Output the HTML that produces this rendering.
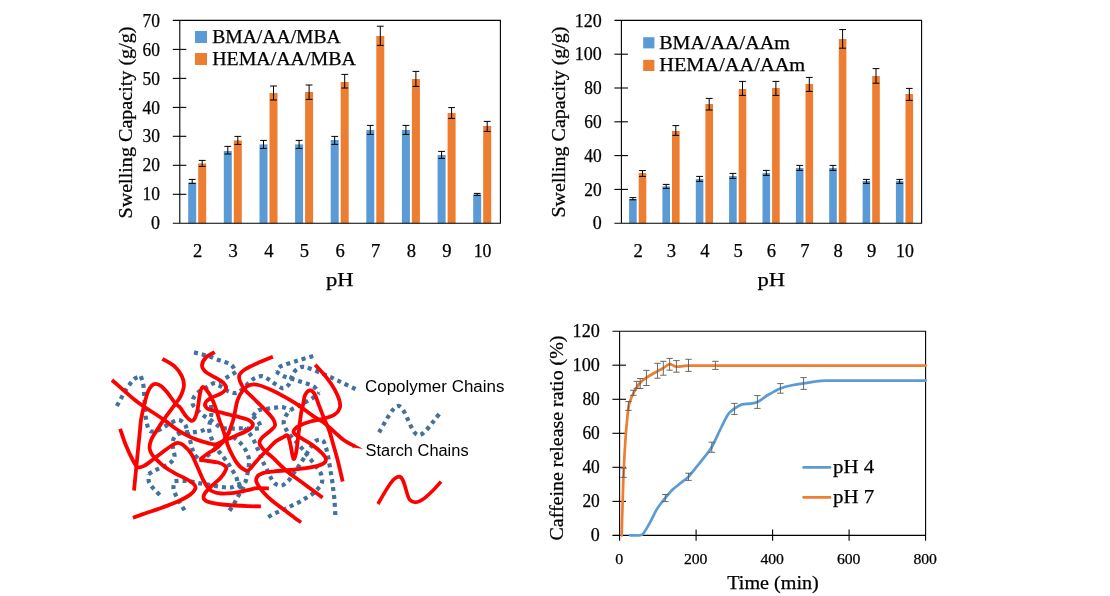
<!DOCTYPE html>
<html><head><meta charset="utf-8"><title>Figure</title>
<style>html,body{margin:0;padding:0;background:#fff}svg{display:block}text{font-family:'Liberation Serif', serif;fill:#000;stroke:#000;stroke-width:0.25px}</style></head><body>
<svg width="1110" height="596" viewBox="0 0 1110 596">
<rect width="1110" height="596" fill="#fff"/>
<g id="chart1">
<rect x="188.2" y="182.6" width="8" height="40.7" fill="#5B9BD5"/>
<rect x="198.2" y="163.4" width="8" height="59.9" fill="#ED7D31"/>
<path d="M192.2 179.4V183.4M188.8 179.4h6.8M188.8 183.4h6.8" stroke="#000" stroke-width="1" fill="none"/>
<path d="M202.2 160.4V166.4M198.8 160.4h6.8M198.8 166.4h6.8" stroke="#000" stroke-width="1" fill="none"/>
<rect x="223.8" y="151.0" width="8" height="72.3" fill="#5B9BD5"/>
<rect x="233.8" y="140.4" width="8" height="82.9" fill="#ED7D31"/>
<path d="M227.8 146.4V154.0M224.4 146.4h6.8M224.4 154.0h6.8" stroke="#000" stroke-width="1" fill="none"/>
<path d="M237.8 136.4V144.4M234.4 136.4h6.8M234.4 144.4h6.8" stroke="#000" stroke-width="1" fill="none"/>
<rect x="259.5" y="144.4" width="8" height="78.9" fill="#5B9BD5"/>
<rect x="269.5" y="93.0" width="8" height="130.3" fill="#ED7D31"/>
<path d="M263.5 140.4V148.4M260.1 140.4h6.8M260.1 148.4h6.8" stroke="#000" stroke-width="1" fill="none"/>
<path d="M273.5 86.0V100.0M270.1 86.0h6.8M270.1 100.0h6.8" stroke="#000" stroke-width="1" fill="none"/>
<rect x="295.1" y="144.4" width="8" height="78.9" fill="#5B9BD5"/>
<rect x="305.1" y="92.0" width="8" height="131.3" fill="#ED7D31"/>
<path d="M299.1 140.4V148.4M295.7 140.4h6.8M295.7 148.4h6.8" stroke="#000" stroke-width="1" fill="none"/>
<path d="M309.1 85.0V99.4M305.7 85.0h6.8M305.7 99.4h6.8" stroke="#000" stroke-width="1" fill="none"/>
<rect x="330.7" y="140.0" width="8" height="83.3" fill="#5B9BD5"/>
<rect x="340.7" y="82.0" width="8" height="141.3" fill="#ED7D31"/>
<path d="M334.7 136.4V144.4M331.3 136.4h6.8M331.3 144.4h6.8" stroke="#000" stroke-width="1" fill="none"/>
<path d="M344.7 74.4V88.0M341.3 74.4h6.8M341.3 88.0h6.8" stroke="#000" stroke-width="1" fill="none"/>
<rect x="366.3" y="130.0" width="8" height="93.3" fill="#5B9BD5"/>
<rect x="376.3" y="36.0" width="8" height="187.3" fill="#ED7D31"/>
<path d="M370.3 125.4V134.4M366.9 125.4h6.8M366.9 134.4h6.8" stroke="#000" stroke-width="1" fill="none"/>
<path d="M380.3 26.2V45.4M376.9 26.2h6.8M376.9 45.4h6.8" stroke="#000" stroke-width="1" fill="none"/>
<rect x="401.9" y="130.0" width="8" height="93.3" fill="#5B9BD5"/>
<rect x="411.9" y="79.0" width="8" height="144.3" fill="#ED7D31"/>
<path d="M405.9 125.4V134.4M402.5 125.4h6.8M402.5 134.4h6.8" stroke="#000" stroke-width="1" fill="none"/>
<path d="M415.9 71.4V86.4M412.5 71.4h6.8M412.5 86.4h6.8" stroke="#000" stroke-width="1" fill="none"/>
<rect x="437.6" y="155.0" width="8" height="68.3" fill="#5B9BD5"/>
<rect x="447.6" y="113.0" width="8" height="110.3" fill="#ED7D31"/>
<path d="M441.6 151.4V158.4M438.2 151.4h6.8M438.2 158.4h6.8" stroke="#000" stroke-width="1" fill="none"/>
<path d="M451.6 107.6V118.4M448.2 107.6h6.8M448.2 118.4h6.8" stroke="#000" stroke-width="1" fill="none"/>
<rect x="473.2" y="194.4" width="8" height="28.9" fill="#5B9BD5"/>
<rect x="483.2" y="126.0" width="8" height="97.3" fill="#ED7D31"/>
<path d="M477.2 193.4V195.4M473.8 193.4h6.8M473.8 195.4h6.8" stroke="#000" stroke-width="1" fill="none"/>
<path d="M487.2 121.4V131.4M483.8 121.4h6.8M483.8 131.4h6.8" stroke="#000" stroke-width="1" fill="none"/>
<path d="M172.8 20.4H500.4V223.3H172.8M179.8 20.4V223.3" stroke="#000" stroke-width="1.1" fill="none"/>
<text x="159.9" y="229.4" font-size="18.4" text-anchor="end" textLength="9.0" lengthAdjust="spacingAndGlyphs">0</text>
<path d="M172.8 194.3h13.5" stroke="#000" stroke-width="1.1"/>
<text x="159.9" y="200.4" font-size="18.4" text-anchor="end" textLength="17.400000000000002" lengthAdjust="spacingAndGlyphs">10</text>
<path d="M172.8 165.3h13.5" stroke="#000" stroke-width="1.1"/>
<text x="159.9" y="171.4" font-size="18.4" text-anchor="end" textLength="17.400000000000002" lengthAdjust="spacingAndGlyphs">20</text>
<path d="M172.8 136.3h13.5" stroke="#000" stroke-width="1.1"/>
<text x="159.9" y="142.4" font-size="18.4" text-anchor="end" textLength="17.400000000000002" lengthAdjust="spacingAndGlyphs">30</text>
<path d="M172.8 107.4h13.5" stroke="#000" stroke-width="1.1"/>
<text x="159.9" y="113.5" font-size="18.4" text-anchor="end" textLength="17.400000000000002" lengthAdjust="spacingAndGlyphs">40</text>
<path d="M172.8 78.4h13.5" stroke="#000" stroke-width="1.1"/>
<text x="159.9" y="84.5" font-size="18.4" text-anchor="end" textLength="17.400000000000002" lengthAdjust="spacingAndGlyphs">50</text>
<path d="M172.8 49.4h13.5" stroke="#000" stroke-width="1.1"/>
<text x="159.9" y="55.5" font-size="18.4" text-anchor="end" textLength="17.400000000000002" lengthAdjust="spacingAndGlyphs">60</text>
<text x="159.9" y="26.5" font-size="18.4" text-anchor="end" textLength="17.400000000000002" lengthAdjust="spacingAndGlyphs">70</text>
<text x="197.6" y="256.6" font-size="18.4" text-anchor="middle" textLength="9.3" lengthAdjust="spacingAndGlyphs">2</text>
<text x="233.2" y="256.6" font-size="18.4" text-anchor="middle" textLength="9.3" lengthAdjust="spacingAndGlyphs">3</text>
<text x="268.9" y="256.6" font-size="18.4" text-anchor="middle" textLength="9.3" lengthAdjust="spacingAndGlyphs">4</text>
<text x="304.5" y="256.6" font-size="18.4" text-anchor="middle" textLength="9.3" lengthAdjust="spacingAndGlyphs">5</text>
<text x="340.1" y="256.6" font-size="18.4" text-anchor="middle" textLength="9.3" lengthAdjust="spacingAndGlyphs">6</text>
<text x="375.7" y="256.6" font-size="18.4" text-anchor="middle" textLength="9.3" lengthAdjust="spacingAndGlyphs">7</text>
<text x="411.3" y="256.6" font-size="18.4" text-anchor="middle" textLength="9.3" lengthAdjust="spacingAndGlyphs">8</text>
<text x="447.0" y="256.6" font-size="18.4" text-anchor="middle" textLength="9.3" lengthAdjust="spacingAndGlyphs">9</text>
<text x="482.6" y="256.6" font-size="18.4" text-anchor="middle" textLength="17.8" lengthAdjust="spacingAndGlyphs">10</text>
<text x="339.8" y="286" font-size="19.4" text-anchor="middle" textLength="27.6" lengthAdjust="spacingAndGlyphs">pH</text>
<rect x="195" y="31" width="12" height="12" fill="#5B9BD5"/>
<rect x="195" y="53" width="12" height="12" fill="#ED7D31"/>
<text x="212.2" y="42.6" font-size="18.6" text-anchor="start" textLength="128.6" lengthAdjust="spacingAndGlyphs">BMA/AA/MBA</text>
<text x="212.2" y="64.6" font-size="18.6" text-anchor="start" textLength="143.6" lengthAdjust="spacingAndGlyphs">HEMA/AA/MBA</text>
<text transform="translate(132 122.5) rotate(-90)" font-size="18.2" text-anchor="middle" textLength="192" lengthAdjust="spacingAndGlyphs">Swelling Capacity (g/g)</text>
</g>
<g id="chart2">
<rect x="629.1" y="199.0" width="7.6" height="24.2" fill="#5B9BD5"/>
<rect x="638.7" y="173.0" width="7.6" height="50.2" fill="#ED7D31"/>
<path d="M632.9 197.6V199.8M629.5 197.6h6.8M629.5 199.8h6.8" stroke="#000" stroke-width="1" fill="none"/>
<path d="M642.5 170.6V176.4M639.1 170.6h6.8M639.1 176.4h6.8" stroke="#000" stroke-width="1" fill="none"/>
<rect x="662.4" y="186.4" width="7.6" height="36.8" fill="#5B9BD5"/>
<rect x="672.0" y="131.0" width="7.6" height="92.2" fill="#ED7D31"/>
<path d="M666.2 184.4V188.4M662.8 184.4h6.8M662.8 188.4h6.8" stroke="#000" stroke-width="1" fill="none"/>
<path d="M675.8 125.6V135.4M672.4 125.6h6.8M672.4 135.4h6.8" stroke="#000" stroke-width="1" fill="none"/>
<rect x="695.8" y="179.0" width="7.6" height="44.2" fill="#5B9BD5"/>
<rect x="705.4" y="104.0" width="7.6" height="119.2" fill="#ED7D31"/>
<path d="M699.6 176.4V181.4M696.2 176.4h6.8M696.2 181.4h6.8" stroke="#000" stroke-width="1" fill="none"/>
<path d="M709.2 98.4V110.0M705.8 98.4h6.8M705.8 110.0h6.8" stroke="#000" stroke-width="1" fill="none"/>
<rect x="729.1" y="176.0" width="7.6" height="47.2" fill="#5B9BD5"/>
<rect x="738.7" y="89.0" width="7.6" height="134.2" fill="#ED7D31"/>
<path d="M732.9 173.4V178.4M729.5 173.4h6.8M729.5 178.4h6.8" stroke="#000" stroke-width="1" fill="none"/>
<path d="M742.5 81.4V95.4M739.1 81.4h6.8M739.1 95.4h6.8" stroke="#000" stroke-width="1" fill="none"/>
<rect x="762.5" y="173.0" width="7.6" height="50.2" fill="#5B9BD5"/>
<rect x="772.1" y="88.0" width="7.6" height="135.2" fill="#ED7D31"/>
<path d="M766.3 170.4V175.4M762.9 170.4h6.8M762.9 175.4h6.8" stroke="#000" stroke-width="1" fill="none"/>
<path d="M775.9 81.4V95.4M772.5 81.4h6.8M772.5 95.4h6.8" stroke="#000" stroke-width="1" fill="none"/>
<rect x="795.9" y="168.0" width="7.6" height="55.2" fill="#5B9BD5"/>
<rect x="805.5" y="84.0" width="7.6" height="139.2" fill="#ED7D31"/>
<path d="M799.7 165.4V170.4M796.3 165.4h6.8M796.3 170.4h6.8" stroke="#000" stroke-width="1" fill="none"/>
<path d="M809.3 77.4V91.4M805.9 77.4h6.8M805.9 91.4h6.8" stroke="#000" stroke-width="1" fill="none"/>
<rect x="829.2" y="168.0" width="7.6" height="55.2" fill="#5B9BD5"/>
<rect x="838.8" y="39.0" width="7.6" height="184.2" fill="#ED7D31"/>
<path d="M833.0 165.4V170.4M829.6 165.4h6.8M829.6 170.4h6.8" stroke="#000" stroke-width="1" fill="none"/>
<path d="M842.6 29.6V48.2M839.2 29.6h6.8M839.2 48.2h6.8" stroke="#000" stroke-width="1" fill="none"/>
<rect x="862.6" y="181.0" width="7.6" height="42.2" fill="#5B9BD5"/>
<rect x="872.2" y="76.0" width="7.6" height="147.2" fill="#ED7D31"/>
<path d="M866.4 179.4V183.4M863.0 179.4h6.8M863.0 183.4h6.8" stroke="#000" stroke-width="1" fill="none"/>
<path d="M876.0 68.6V83.2M872.6 68.6h6.8M872.6 83.2h6.8" stroke="#000" stroke-width="1" fill="none"/>
<rect x="895.9" y="181.0" width="7.6" height="42.2" fill="#5B9BD5"/>
<rect x="905.5" y="94.0" width="7.6" height="129.2" fill="#ED7D31"/>
<path d="M899.7 179.4V183.4M896.3 179.4h6.8M896.3 183.4h6.8" stroke="#000" stroke-width="1" fill="none"/>
<path d="M909.3 88.4V100.4M905.9 88.4h6.8M905.9 100.4h6.8" stroke="#000" stroke-width="1" fill="none"/>
<path d="M614.4 20.4H921.6V223.2H614.4M621.4 20.4V223.2" stroke="#000" stroke-width="1.1" fill="none"/>
<text x="601.7" y="229.3" font-size="18.4" text-anchor="end" textLength="9.0" lengthAdjust="spacingAndGlyphs">0</text>
<path d="M614.4 189.4h13.5" stroke="#000" stroke-width="1.1"/>
<text x="601.7" y="195.5" font-size="18.4" text-anchor="end" textLength="17.400000000000002" lengthAdjust="spacingAndGlyphs">20</text>
<path d="M614.4 155.6h13.5" stroke="#000" stroke-width="1.1"/>
<text x="601.7" y="161.7" font-size="18.4" text-anchor="end" textLength="17.400000000000002" lengthAdjust="spacingAndGlyphs">40</text>
<path d="M614.4 121.8h13.5" stroke="#000" stroke-width="1.1"/>
<text x="601.7" y="127.9" font-size="18.4" text-anchor="end" textLength="17.400000000000002" lengthAdjust="spacingAndGlyphs">60</text>
<path d="M614.4 88.0h13.5" stroke="#000" stroke-width="1.1"/>
<text x="601.7" y="94.1" font-size="18.4" text-anchor="end" textLength="17.400000000000002" lengthAdjust="spacingAndGlyphs">80</text>
<path d="M614.4 54.2h13.5" stroke="#000" stroke-width="1.1"/>
<text x="601.7" y="60.3" font-size="18.4" text-anchor="end" textLength="27.0" lengthAdjust="spacingAndGlyphs">100</text>
<text x="601.7" y="26.5" font-size="18.4" text-anchor="end" textLength="27.0" lengthAdjust="spacingAndGlyphs">120</text>
<text x="638.1" y="256.6" font-size="18.4" text-anchor="middle" textLength="9.3" lengthAdjust="spacingAndGlyphs">2</text>
<text x="671.4" y="256.6" font-size="18.4" text-anchor="middle" textLength="9.3" lengthAdjust="spacingAndGlyphs">3</text>
<text x="704.8" y="256.6" font-size="18.4" text-anchor="middle" textLength="9.3" lengthAdjust="spacingAndGlyphs">4</text>
<text x="738.1" y="256.6" font-size="18.4" text-anchor="middle" textLength="9.3" lengthAdjust="spacingAndGlyphs">5</text>
<text x="771.5" y="256.6" font-size="18.4" text-anchor="middle" textLength="9.3" lengthAdjust="spacingAndGlyphs">6</text>
<text x="804.9" y="256.6" font-size="18.4" text-anchor="middle" textLength="9.3" lengthAdjust="spacingAndGlyphs">7</text>
<text x="838.2" y="256.6" font-size="18.4" text-anchor="middle" textLength="9.3" lengthAdjust="spacingAndGlyphs">8</text>
<text x="871.6" y="256.6" font-size="18.4" text-anchor="middle" textLength="9.3" lengthAdjust="spacingAndGlyphs">9</text>
<text x="904.9" y="256.6" font-size="18.4" text-anchor="middle" textLength="17.8" lengthAdjust="spacingAndGlyphs">10</text>
<text x="771.2" y="286" font-size="19.4" text-anchor="middle" textLength="27.6" lengthAdjust="spacingAndGlyphs">pH</text>
<rect x="643.2" y="37.2" width="11.2" height="11.2" fill="#5B9BD5"/>
<rect x="643.2" y="59.8" width="11.2" height="11.2" fill="#ED7D31"/>
<text x="659.2" y="48.6" font-size="18.4" text-anchor="start" textLength="130.6" lengthAdjust="spacingAndGlyphs">BMA/AA/AAm</text>
<text x="659.2" y="70.8" font-size="18.4" text-anchor="start" textLength="146" lengthAdjust="spacingAndGlyphs">HEMA/AA/AAm</text>
<text transform="translate(565 122) rotate(-90)" font-size="18.2" text-anchor="middle" textLength="191" lengthAdjust="spacingAndGlyphs">Swelling Capacity (g/g)</text>
</g>
<g id="chart3">
<path d="M612.4 331.2H925.6V540.8M619.6 331.2V540.8M612.4 535.4H925.6" stroke="#000" stroke-width="1.1" fill="none"/>
<text x="599.8" y="541.4" font-size="18.4" text-anchor="end" textLength="9.0" lengthAdjust="spacingAndGlyphs">0</text>
<path d="M612.4 501.4h13.6" stroke="#000" stroke-width="1.1"/>
<text x="599.8" y="507.4" font-size="18.4" text-anchor="end" textLength="17.400000000000002" lengthAdjust="spacingAndGlyphs">20</text>
<path d="M612.4 467.3h13.6" stroke="#000" stroke-width="1.1"/>
<text x="599.8" y="473.3" font-size="18.4" text-anchor="end" textLength="17.400000000000002" lengthAdjust="spacingAndGlyphs">40</text>
<path d="M612.4 433.3h13.6" stroke="#000" stroke-width="1.1"/>
<text x="599.8" y="439.3" font-size="18.4" text-anchor="end" textLength="17.400000000000002" lengthAdjust="spacingAndGlyphs">60</text>
<path d="M612.4 399.3h13.6" stroke="#000" stroke-width="1.1"/>
<text x="599.8" y="405.3" font-size="18.4" text-anchor="end" textLength="17.400000000000002" lengthAdjust="spacingAndGlyphs">80</text>
<path d="M612.4 365.2h13.6" stroke="#000" stroke-width="1.1"/>
<text x="599.8" y="371.2" font-size="18.4" text-anchor="end" textLength="27.2" lengthAdjust="spacingAndGlyphs">100</text>
<text x="599.8" y="337.2" font-size="18.4" text-anchor="end" textLength="27.2" lengthAdjust="spacingAndGlyphs">120</text>
<path d="M630.1 535.3C631.8 535.3 638.1 535.8 640.5 535.3C642.9 534.8 642.6 534.5 644.2 532.3C645.8 530.1 648.2 525.9 650.2 522.2C652.2 518.5 654.3 513.5 656.3 510.1C658.3 506.7 660.8 503.6 662.3 501.6C663.8 499.6 663.6 500.0 665.3 498C667.0 496.0 669.9 492.2 672.4 489.8C674.9 487.4 677.7 485.5 680.4 483.3C683.1 481.1 686.0 479.2 688.5 476.7C691.0 474.2 693.0 471.3 695.5 468.2C698.0 465.1 700.9 461.6 703.6 458.1C706.3 454.6 709.1 451.7 711.8 447C714.5 442.3 717.3 435.4 720 430C722.7 424.6 725.6 418.1 728 414.5C730.4 410.9 732.1 410.3 734.4 408.6C736.7 406.9 739.4 405.2 742 404.4C744.6 403.6 747.4 404.0 750 403.6C752.6 403.2 754.4 403.4 757.4 402C760.4 400.6 764.2 397.3 768 395C771.8 392.7 776.4 390.0 780.4 388.4C784.4 386.8 788.1 386.0 792 385.2C795.9 384.4 799.6 384.0 803.6 383.4C807.6 382.8 812.3 381.8 816 381.4C819.7 380.9 820.3 380.8 826 380.7C831.7 380.6 833.4 380.7 850 380.7C866.6 380.7 913.0 380.7 925.6 380.7" stroke="#5B9BD5" stroke-width="2.7" fill="none" stroke-linecap="round" stroke-linejoin="round"/>
<path d="M621.7 535.4C621.8 532.8 621.9 525.9 622.1 520C622.3 514.1 622.5 507.9 622.7 500C623.0 492.1 623.2 481.1 623.6 472.8C624.0 464.5 624.4 456.6 624.8 450C625.2 443.4 625.5 438.5 625.9 433.5C626.3 428.5 626.7 424.4 627.1 420.2C627.5 415.9 627.9 411.3 628.4 408C628.9 404.7 629.5 402.8 630.3 400.5C631.1 398.2 632.0 396.2 633.1 394C634.2 391.8 635.5 389.2 636.7 387.3C637.9 385.4 638.6 384.4 640.2 382.8C641.8 381.2 643.5 379.6 646.4 377.7C649.3 375.8 654.7 372.8 657.5 371.2C660.3 369.6 661.3 369.4 663.3 368.2C665.3 367.0 667.4 364.4 669.6 364.1C671.8 363.9 673.2 366.4 676.4 366.7C679.5 367.0 682.0 365.9 688.5 365.7C695.0 365.5 696.8 365.6 715.4 365.6C734.0 365.6 765.0 365.6 800 365.6C835.0 365.6 904.7 365.6 925.6 365.6" stroke="#ED7D31" stroke-width="2.7" fill="none" stroke-linecap="round" stroke-linejoin="round"/>
<path d="M623.6 468.2V477.4M620.4 468.2h6.4M620.4 477.4h6.4M628.4 401.6V410.4M625.2 401.6h6.4M625.2 410.4h6.4M633.3 390.3V395.3M630.1 390.3h6.4M630.1 395.3h6.4M636.7 381.4V388.3M633.5 381.4h6.4M633.5 388.3h6.4M640.2 378.5V388.5M637.0 378.5h6.4M637.0 388.5h6.4M646.4 370.4V385.5M643.2 370.4h6.4M643.2 385.5h6.4M657.5 363.3V378.2M654.3 363.3h6.4M654.3 378.2h6.4M663.3 361.3V375.2M660.1 361.3h6.4M660.1 375.2h6.4M669.6 358.4V370.2M666.4 358.4h6.4M666.4 370.2h6.4M676.4 360.6V372.2M673.2 360.6h6.4M673.2 372.2h6.4M688.5 359.3V371.4M685.3 359.3h6.4M685.3 371.4h6.4M715.4 361.3V369.4M712.2 361.3h6.4M712.2 369.4h6.4" stroke="#595959" stroke-width="0.9" fill="none"/>
<path d="M665.3 494.5V501.6M662.1 494.5h6.4M662.1 501.6h6.4M688.5 473.2V480.4M685.3 473.2h6.4M685.3 480.4h6.4M711.8 442.2V452.3M708.6 442.2h6.4M708.6 452.3h6.4M734.4 403.4V414.4M731.2 403.4h6.4M731.2 414.4h6.4M757.4 395.6V408.4M754.2 395.6h6.4M754.2 408.4h6.4M780.4 383.6V393.2M777.2 383.6h6.4M777.2 393.2h6.4M803.6 377.6V389.4M800.4 377.6h6.4M800.4 389.4h6.4" stroke="#595959" stroke-width="0.9" fill="none"/>
<path d="M696.1 529.4v11.4" stroke="#000" stroke-width="1.1"/>
<path d="M772.6 529.4v11.4" stroke="#000" stroke-width="1.1"/>
<path d="M849.1 529.4v11.4" stroke="#000" stroke-width="1.1"/>
<text x="619.2" y="564" font-size="15" text-anchor="middle" textLength="8" lengthAdjust="spacingAndGlyphs">0</text>
<text x="695.7" y="564" font-size="15" text-anchor="middle" textLength="23.6" lengthAdjust="spacingAndGlyphs">200</text>
<text x="772.2" y="564" font-size="15" text-anchor="middle" textLength="23.6" lengthAdjust="spacingAndGlyphs">400</text>
<text x="848.7" y="564" font-size="15" text-anchor="middle" textLength="23.6" lengthAdjust="spacingAndGlyphs">600</text>
<text x="925.2" y="564" font-size="15" text-anchor="middle" textLength="23.6" lengthAdjust="spacingAndGlyphs">800</text>
<text x="773" y="588.6" font-size="18.6" text-anchor="middle" textLength="91.6" lengthAdjust="spacingAndGlyphs">Time (min)</text>
<text transform="translate(563 438) rotate(-90)" font-size="18.6" text-anchor="middle" textLength="205" lengthAdjust="spacingAndGlyphs">Caffeine release ratio (%)</text>
<path d="M803.6 467.4h26.4" stroke="#5B9BD5" stroke-width="2.7" stroke-linecap="round"/>
<path d="M803.6 497.4h26.4" stroke="#ED7D31" stroke-width="2.7" stroke-linecap="round"/>
<text x="833" y="472.6" font-size="18.6" text-anchor="start" textLength="41.2" lengthAdjust="spacingAndGlyphs">pH 4</text>
<text x="833" y="503" font-size="18.6" text-anchor="start" textLength="41.2" lengthAdjust="spacingAndGlyphs">pH 7</text>
</g>
<g id="diagram">
<path d="M116.8 406.0C117.5 404.8 119.5 401.4 120.8 399.0C122.1 396.6 123.5 393.9 124.8 391.7C126.1 389.5 127.2 387.7 128.8 385.6C130.4 383.5 132.2 380.5 134.2 378.9C136.2 377.3 139.8 376.6 140.9 376.2" stroke="#41719C" stroke-width="4.2" stroke-dasharray="4 4" fill="none" stroke-linejoin="round"/>
<path d="M140.9 376.2C141.3 377.6 142.7 381.6 143.2 384.3C143.7 387.0 143.8 389.6 144.0 392.3C144.2 395.0 144.3 397.7 144.5 400.4C144.7 403.1 144.7 405.8 144.9 408.4C145.1 411.0 145.2 413.5 145.6 416.1C145.9 418.7 146.3 421.7 147.0 424.2C147.7 426.7 148.3 429.9 150.0 431.0C151.7 432.1 154.7 431.7 157.0 431.0C159.3 430.3 161.7 428.3 164.0 427.0C166.3 425.7 168.2 424.2 170.7 423.0C173.1 421.8 176.3 419.8 178.7 420.0C181.0 420.2 183.4 422.1 184.8 424.0C186.2 425.9 186.5 429.1 187.3 431.7C188.1 434.2 189.1 436.7 189.8 439.3C190.6 441.9 191.1 444.9 191.8 447.3C192.6 449.7 192.9 451.7 194.3 453.9C195.7 456.1 199.1 459.6 200.0 460.7" stroke="#41719C" stroke-width="4.2" stroke-dasharray="4 4" fill="none" stroke-linejoin="round"/>
<path d="M200.0 460.7C201.1 460.0 204.6 458.0 206.7 456.4C208.8 454.8 210.7 452.9 212.7 451.0C214.7 449.1 216.6 446.7 218.5 444.8C220.4 442.9 222.3 441.5 224.1 439.6C225.8 437.8 228.2 434.7 229.0 433.7" stroke="#41719C" stroke-width="4.2" stroke-dasharray="4 4" fill="none" stroke-linejoin="round"/>
<path d="M194.0 352.4C195.3 352.7 199.4 353.7 202.0 354.4C204.6 355.1 207.1 355.8 209.6 356.6C212.1 357.4 214.4 358.5 217.0 359.4C219.6 360.3 222.5 361.0 225.0 362.0C227.5 363.0 230.2 363.9 232.0 365.6C233.8 367.3 235.3 370.9 236.0 372.0" stroke="#41719C" stroke-width="4.2" stroke-dasharray="4 4" fill="none" stroke-linejoin="round"/>
<path d="M236.0 372.0C234.8 372.7 231.5 374.5 229.0 376.0C226.5 377.5 223.5 379.8 221.0 381.0C218.5 382.2 216.3 382.0 214.0 383.0C211.7 384.0 209.3 385.7 207.0 387.0C204.7 388.3 202.2 389.3 200.0 391.0C197.8 392.7 195.2 394.8 194.0 397.0C192.8 399.2 192.0 401.8 192.6 404.0C193.2 406.2 195.5 408.1 197.3 410.0C199.1 411.9 201.1 413.7 203.3 415.4C205.5 417.1 208.5 418.5 210.7 420.1C212.9 421.7 214.8 423.5 216.7 424.8C218.6 426.1 220.1 427.6 222.1 428.2C224.1 428.8 226.5 428.1 228.8 428.2C231.2 428.3 233.6 428.6 236.2 428.6C238.8 428.6 241.4 428.2 244.2 428.2C247.0 428.2 249.9 428.8 252.8 428.8C255.7 428.8 260.1 428.3 261.5 428.2" stroke="#41719C" stroke-width="4.2" stroke-dasharray="4 4" fill="none" stroke-linejoin="round"/>
<path d="M229.5 510.7C230.3 509.5 232.8 506.0 234.2 503.6C235.6 501.2 236.9 498.6 238.2 496.2C239.5 493.8 240.9 491.9 242.1 489.5C243.3 487.1 244.5 484.7 245.4 482.1C246.3 479.5 246.8 476.8 247.4 474.1C248.0 471.4 248.6 468.6 248.8 466.0C249.0 463.4 249.2 460.9 248.8 458.4C248.4 455.9 247.3 453.4 246.1 451.0C244.9 448.6 243.3 446.3 241.6 444.3C239.8 442.3 237.7 440.6 235.6 438.8C233.5 437.0 231.2 435.5 229.0 433.7C226.8 431.9 223.2 429.1 222.1 428.2" stroke="#41719C" stroke-width="4.2" stroke-dasharray="4 4" fill="none" stroke-linejoin="round"/>
<path d="M210.4 397.0C210.5 398.3 210.8 402.3 211.0 405.0C211.2 407.7 211.5 410.5 211.4 413.0C211.3 415.5 210.8 417.5 210.4 420.0C210.0 422.5 208.9 425.3 209.0 428.0C209.1 430.7 209.9 433.6 210.7 436.2C211.5 438.8 212.8 441.2 214.0 443.6C215.2 446.0 216.4 448.1 218.0 450.3C219.6 452.5 221.7 454.8 223.4 457.0C225.1 459.2 226.6 461.2 228.1 463.4C229.6 465.6 230.8 467.8 232.2 470.0C233.5 472.2 235.2 474.4 236.2 476.8C237.2 479.2 237.2 482.1 238.2 484.2C239.2 486.3 241.5 488.6 242.2 489.5" stroke="#41719C" stroke-width="4.2" stroke-dasharray="4 4" fill="none" stroke-linejoin="round"/>
<path d="M159.7 494.9C158.7 493.9 155.5 490.9 153.7 488.8C151.9 486.7 149.8 484.6 149.0 482.1C148.2 479.7 148.7 475.4 148.6 474.1" stroke="#41719C" stroke-width="4.2" stroke-dasharray="4 4" fill="none" stroke-linejoin="round"/>
<path d="M148.6 474.1C149.8 473.4 153.3 471.2 155.7 470.0C158.1 468.8 160.6 467.9 163.1 466.7C165.6 465.5 168.5 464.3 170.4 462.7C172.3 461.1 174.0 459.2 174.5 457.0C175.0 454.8 173.5 451.9 173.2 449.3C172.9 446.7 172.1 443.7 172.7 441.3C173.3 438.9 174.6 436.2 176.7 434.7C178.8 433.2 182.6 432.8 185.3 432.4C188.0 432.0 190.3 432.4 192.8 432.2C195.3 432.0 197.9 431.9 200.4 431.2C202.9 430.5 206.4 428.5 207.6 428.0" stroke="#41719C" stroke-width="4.2" stroke-dasharray="4 4" fill="none" stroke-linejoin="round"/>
<path d="M335.3 515.0C335.2 513.1 334.9 506.8 334.7 503.6C334.5 500.4 334.3 498.3 334.0 495.6C333.7 492.9 333.3 490.2 333.0 487.5C332.7 484.8 332.4 482.2 332.0 479.5C331.6 476.8 331.1 474.0 330.6 471.4C330.2 468.8 329.8 466.3 329.3 463.7C328.9 461.1 328.5 458.4 327.9 455.7C327.3 453.0 326.8 450.2 325.9 447.6C325.0 445.0 324.3 441.4 322.6 440.3C320.9 439.2 317.9 439.7 315.9 440.9C313.9 442.1 312.1 445.4 310.5 447.6C308.9 449.8 307.8 451.9 306.5 454.0C305.2 456.1 303.9 458.1 302.5 460.4C301.1 462.6 299.4 465.2 297.8 467.5C296.2 469.8 294.7 471.9 293.1 474.1C291.5 476.3 290.3 478.9 288.4 480.8C286.5 482.7 283.9 485.1 281.7 485.5C279.5 485.9 276.9 484.9 275.0 483.5C273.1 482.1 271.7 479.2 270.3 476.8C268.9 474.4 268.1 471.9 266.9 469.4C265.7 466.9 264.0 464.2 262.9 461.7C261.8 459.2 261.2 456.8 260.2 454.3C259.2 451.9 257.9 449.4 256.8 447.0C255.7 444.6 254.8 441.9 253.5 439.6C252.2 437.3 250.8 435.1 249.2 433.2C247.6 431.3 245.0 429.0 244.2 428.2" stroke="#41719C" stroke-width="4.2" stroke-dasharray="4 4" fill="none" stroke-linejoin="round"/>
<path d="M313.2 356.1C310.5 356.9 302.5 359.1 297.1 360.8C291.7 362.5 284.5 364.4 281.0 366.2C277.5 368.0 277.1 370.6 276.3 371.5" stroke="#41719C" stroke-width="4.2" stroke-dasharray="4 4" fill="none" stroke-linejoin="round"/>
<path d="M276.3 371.5C277.5 372.3 280.0 374.6 283.7 376.2C287.4 377.8 293.5 379.2 298.4 380.9C303.3 382.6 309.7 384.3 313.2 386.3C316.7 388.3 318.2 391.9 319.2 393.0" stroke="#41719C" stroke-width="4.2" stroke-dasharray="4 4" fill="none" stroke-linejoin="round"/>
<path d="M268.2 517.0C269.4 516.3 273.0 514.2 275.6 513.0C278.2 511.8 281.2 510.7 283.7 509.6C286.2 508.5 288.0 507.4 290.4 506.3C292.8 505.2 295.4 504.1 297.8 502.9C300.2 501.7 302.3 500.2 304.5 498.9C306.7 497.6 309.1 496.5 311.2 494.9C313.3 493.3 315.4 491.5 317.2 489.5C319.0 487.5 321.2 485.3 321.9 482.8C322.6 480.3 322.0 477.0 321.2 474.5C320.4 472.0 318.6 469.9 317.2 467.8C315.8 465.7 314.2 463.8 312.5 461.7C310.8 459.6 308.8 457.1 307.1 455.0C305.4 452.9 304.2 451.0 302.5 449.0C300.8 447.0 298.9 444.9 297.1 442.9C295.3 440.9 293.4 438.9 291.7 436.9C290.0 434.9 288.3 433.1 287.0 430.9C285.7 428.7 283.9 426.0 283.7 423.5C283.5 421.0 284.6 418.3 285.7 416.1C286.8 413.9 288.5 412.0 290.4 410.4C292.3 408.8 294.7 407.7 297.1 406.4C299.6 405.1 302.4 403.8 305.1 402.4C307.8 400.9 310.9 399.3 313.2 397.7C315.5 396.1 318.2 393.8 319.2 393.0" stroke="#41719C" stroke-width="4.2" stroke-dasharray="4 4" fill="none" stroke-linejoin="round"/>
<path d="M355.5 389.0C352.9 387.8 345.0 384.0 340.0 381.6C335.0 379.2 330.2 377.0 325.3 374.9C320.4 372.8 314.3 370.1 310.5 368.8C306.7 367.5 305.0 366.6 302.5 366.8C300.0 367.0 297.5 368.5 295.7 370.2C293.9 371.9 292.8 374.5 291.7 376.9C290.6 379.2 290.4 382.4 289.0 384.3C287.6 386.2 285.2 388.3 283.0 388.3C280.8 388.3 278.0 385.8 275.6 384.3C273.2 382.9 271.1 381.0 268.9 379.6C266.7 378.2 264.5 376.4 262.2 376.2C259.9 376.0 257.0 377.1 254.8 378.2C252.6 379.3 250.7 381.2 248.8 382.9C246.9 384.6 245.4 386.6 243.4 388.3C241.4 390.0 239.1 392.4 236.7 393.0C234.3 393.6 231.4 392.6 229.0 391.6C226.6 390.6 224.5 388.4 222.0 387.0C219.5 385.6 215.3 383.7 214.0 383.0" stroke="#41719C" stroke-width="4.2" stroke-dasharray="4 4" fill="none" stroke-linejoin="round"/>
<path d="M252.8 416.1C253.7 415.2 256.1 411.6 258.2 410.4C260.3 409.2 262.9 409.5 265.6 409.1C268.3 408.7 271.5 408.1 274.3 407.8C277.1 407.5 279.6 406.7 282.3 407.1C285.0 407.5 289.0 409.8 290.4 410.4" stroke="#41719C" stroke-width="4.2" stroke-dasharray="4 4" fill="none" stroke-linejoin="round"/>
<path d="M252.8 416.1C253.7 417.0 256.8 419.5 258.2 421.5C259.6 423.5 260.9 427.1 261.5 428.2" stroke="#41719C" stroke-width="4.2" stroke-dasharray="4 4" fill="none" stroke-linejoin="round"/>
<path d="M174.5 481.2C175.9 481.1 180.4 480.8 183.2 480.8C186.0 480.9 188.6 481.1 191.2 481.5C193.8 481.9 196.0 482.6 198.6 483.1C201.2 483.6 204.0 483.9 206.7 484.4C209.4 484.8 212.0 485.4 214.7 485.8C217.4 486.2 220.1 486.8 222.8 487.1C225.5 487.4 228.4 487.9 230.8 487.5C233.2 487.1 235.0 485.8 237.5 484.8C240.0 483.8 244.2 482.1 245.6 481.5" stroke="#41719C" stroke-width="4.2" stroke-dasharray="4 4" fill="none" stroke-linejoin="round"/>
<path d="M184.5 510.3C183.8 509.1 181.6 505.6 180.2 503.2C178.8 500.8 177.3 498.4 176.2 496.0C175.1 493.6 173.8 491.3 173.5 488.8C173.2 486.3 174.3 482.5 174.5 481.2" stroke="#41719C" stroke-width="4.2" stroke-dasharray="4 4" fill="none" stroke-linejoin="round"/>
<path d="M112.0 380.0C115.8 383.3 129.5 395.6 134.9 400.0C140.3 404.4 139.4 403.3 144.3 406.7C149.2 410.1 159.3 416.5 164.4 420.1C169.5 423.7 171.5 425.7 175.1 428.2C178.7 430.7 182.3 433.0 185.9 434.9C189.5 436.8 193.0 438.3 196.6 439.6C200.2 440.9 204.2 442.1 207.3 442.9C210.4 443.7 212.7 444.6 215.4 444.3C218.1 444.0 220.3 442.1 223.4 440.8C226.5 439.5 230.2 438.1 234.2 436.4C238.2 434.7 244.6 432.1 247.6 430.5C250.6 428.9 251.2 428.2 252.0 427.0C252.8 425.8 253.3 424.7 252.6 423.5C251.9 422.3 250.7 420.9 247.6 419.6C244.5 418.3 239.6 417.2 234.2 415.8C228.8 414.4 219.9 412.3 215.4 411.1C210.9 409.9 209.0 409.7 207.3 408.4C205.6 407.1 204.6 404.9 205.3 403.1C206.0 401.3 208.8 399.3 211.4 397.7C214.0 396.1 218.4 395.3 220.8 393.7C223.2 392.1 225.7 390.1 226.1 388.3C226.5 386.5 225.2 384.7 223.4 382.9C221.6 381.1 218.3 379.4 215.4 377.6C212.5 375.8 208.2 374.2 206.0 372.2C203.8 370.2 202.0 368.0 202.0 365.5C202.0 363.0 203.9 359.6 206.0 357.4C208.1 355.2 213.2 353.0 214.7 352.1" stroke="#FF0000" stroke-width="3.8" fill="none" stroke-linejoin="round"/>
<path d="M162.4 358.8C164.5 360.1 171.9 363.9 175.1 366.8C178.3 369.7 180.3 373.1 181.8 376.2C183.3 379.3 184.1 382.2 183.9 385.6C183.7 389.0 182.0 393.3 180.5 396.4C179.0 399.5 177.8 400.7 175.1 404.4C172.4 408.1 167.5 414.4 164.4 418.8C161.3 423.2 158.6 427.3 156.4 430.9C154.2 434.5 152.1 437.4 151.0 440.3C149.9 443.2 149.4 445.9 149.6 448.3C149.8 450.8 150.9 452.9 152.3 455.0C153.7 457.1 156.0 459.1 158.0 461.0C160.0 462.9 161.6 464.6 164.4 466.7C167.2 468.8 171.5 471.4 175.1 473.4C178.7 475.4 182.8 477.0 185.9 478.8C189.0 480.6 192.3 482.5 193.9 484.2C195.5 485.9 196.0 487.0 195.3 488.8C194.6 490.6 192.8 492.8 189.9 494.9C187.0 497.0 182.7 499.4 177.8 501.6C172.9 503.8 166.0 506.3 160.4 508.3C154.8 510.3 148.9 512.1 144.3 513.7C139.7 515.3 134.8 517.0 132.9 517.7" stroke="#FF0000" stroke-width="3.8" fill="none" stroke-linejoin="round"/>
<path d="M134.0 490.5C134.5 485.4 136.0 470.1 137.0 460.0C138.0 449.9 139.3 436.7 140.0 430.0C140.7 423.3 140.3 424.3 141.0 420.0C141.7 415.7 143.1 409.2 144.3 404.4C145.5 399.6 146.7 394.4 148.3 391.0C149.9 387.6 151.7 385.2 153.7 384.3C155.7 383.4 158.2 384.3 160.4 385.6C162.6 386.9 164.7 389.4 167.1 392.3C169.5 395.2 172.9 400.5 175.1 403.1C177.3 405.7 178.7 405.8 180.5 408.0C182.3 410.2 184.1 414.0 185.9 416.1C187.7 418.2 189.8 420.4 191.2 420.8C192.6 421.2 193.6 420.5 194.6 418.8C195.6 417.1 196.4 414.9 197.3 410.7C198.2 406.5 199.1 397.6 200.0 393.7C200.9 389.8 201.4 387.4 202.6 387.0C203.8 386.6 205.8 389.2 207.3 391.0C208.8 392.8 210.1 395.0 211.4 397.7C212.8 400.4 214.1 403.4 215.4 407.1C216.7 410.8 218.1 416.0 219.4 420.0C220.7 424.0 222.1 426.8 223.4 430.9C224.8 434.9 226.2 440.5 227.5 444.3C228.8 448.1 229.9 450.6 231.5 453.7C233.1 456.8 235.1 460.6 236.9 463.0C238.7 465.4 240.4 467.1 242.2 468.4C244.0 469.7 246.0 471.0 247.6 470.8C249.2 470.6 249.5 469.3 251.5 467.1C253.5 464.9 256.8 460.6 259.5 457.7C262.2 454.8 264.9 452.3 267.6 449.6C270.3 446.9 272.9 443.7 275.6 441.6C278.3 439.5 281.7 437.9 283.7 436.9C285.7 435.9 286.6 434.4 287.7 435.6C288.8 436.8 289.6 441.1 290.4 444.3C291.2 447.5 291.8 452.6 292.4 455.0C293.0 457.4 293.4 459.7 294.1 459.0C294.8 458.3 295.7 455.0 296.4 451.0C297.1 447.0 297.6 441.2 298.4 434.9C299.2 428.6 300.3 418.5 301.1 413.4C301.9 408.3 302.4 407.5 303.1 404.4C303.8 401.3 304.0 397.4 305.1 395.0C306.2 392.6 308.2 390.5 309.8 390.3C311.4 390.1 313.0 391.4 314.5 393.7C316.0 396.0 317.0 400.3 318.6 404.4C320.2 408.4 322.1 413.6 323.9 418.0C325.7 422.4 327.5 425.6 329.3 430.9C331.1 436.2 333.1 444.0 334.7 449.6C336.3 455.2 337.4 459.1 338.7 464.4C340.0 469.7 342.0 478.6 342.7 481.5" stroke="#FF0000" stroke-width="3.8" fill="none" stroke-linejoin="round"/>
<path d="M120.1 428.8C121.0 431.4 123.5 439.3 125.5 444.3C127.5 449.3 130.2 455.2 132.2 459.0C134.2 462.8 135.6 466.0 137.6 467.1C139.6 468.2 141.6 467.1 144.3 465.7C147.0 464.3 150.6 461.3 153.7 459.0C156.8 456.7 160.0 454.0 163.1 451.7C166.2 449.4 170.1 446.5 172.5 445.0C174.9 443.5 176.0 442.9 177.8 442.9C179.6 442.9 181.0 443.2 183.2 445.0C185.4 446.8 188.8 449.9 191.2 453.7C193.6 457.5 195.9 463.6 197.9 468.0C199.9 472.4 201.7 477.0 203.3 480.1C204.9 483.2 206.0 485.0 207.3 486.8C208.7 488.6 209.2 489.8 211.4 490.9C213.7 492.0 217.0 493.2 220.8 493.5C224.6 493.8 229.7 493.4 234.2 492.9C238.7 492.3 243.8 491.0 247.6 490.2C251.4 489.4 253.2 488.5 256.8 488.2C260.4 487.9 266.9 488.4 268.9 488.4" stroke="#FF0000" stroke-width="3.8" fill="none" stroke-linejoin="round"/>
<path d="M272.9 356.8C270.2 357.9 261.5 361.4 256.8 363.5C252.1 365.6 247.7 367.6 244.8 369.5C241.9 371.4 240.2 372.9 239.4 374.9C238.6 376.9 239.2 379.2 240.1 381.6C241.0 384.1 242.5 386.7 244.8 389.6C247.2 392.5 250.8 395.7 254.2 399.0C257.5 402.3 261.8 406.3 264.9 409.6C268.0 412.9 271.2 416.2 272.9 418.8C274.6 421.4 275.4 423.5 275.0 425.5C274.6 427.5 272.4 428.9 270.3 430.9C268.2 432.9 264.0 435.6 262.2 437.6C260.4 439.6 259.3 440.9 259.5 442.9C259.7 444.9 261.3 447.1 263.5 449.6C265.7 452.1 269.1 454.2 272.9 457.7C276.7 461.2 281.5 466.5 286.4 470.7C291.3 474.9 296.5 478.3 302.5 482.8C308.5 487.3 319.2 495.1 322.6 497.6" stroke="#FF0000" stroke-width="3.8" fill="none" stroke-linejoin="round"/>
<path d="M354.5 446.2C354.3 446.1 355.1 446.6 353.4 445.6C351.6 444.6 347.1 442.5 344.0 440.3C340.9 438.1 338.1 435.1 334.7 432.2C331.3 429.3 327.5 425.5 323.9 422.8C320.3 420.1 317.7 419.2 313.2 416.1C308.7 413.0 302.0 407.7 297.1 404.4C292.2 401.1 288.2 398.9 283.7 396.4C279.2 393.9 274.6 391.5 270.3 389.6C266.1 387.7 261.6 385.8 258.2 385.0C254.8 384.2 252.6 384.2 250.1 385.0C247.6 385.8 245.5 387.0 243.4 389.6C241.3 392.2 239.2 395.3 237.5 400.4C235.8 405.5 234.9 414.1 233.2 420.0C231.4 425.9 229.5 431.5 227.0 436.0C224.5 440.5 221.3 444.1 218.0 447.0C214.7 449.9 210.3 451.6 207.3 453.7C204.3 455.8 201.1 458.7 199.8 459.7" stroke="#FF0000" stroke-width="3.8" fill="none" stroke-linejoin="round"/>
<path d="M199.3 459.9C200.8 460.1 204.9 460.6 208.0 461.0C211.1 461.4 215.2 461.8 218.0 462.5C220.8 463.2 223.1 464.3 224.5 465.4C225.9 466.5 226.8 467.0 226.2 469.0C225.6 471.0 223.5 474.5 221.0 477.4C218.5 480.3 214.1 483.5 211.4 486.2C208.7 488.9 205.9 491.4 204.7 493.5C203.5 495.6 203.1 497.4 204.0 498.9C204.9 500.4 206.1 501.3 210.0 502.3C213.9 503.3 221.2 504.4 227.5 505.0C233.8 505.6 242.0 505.9 247.6 506.1C253.2 506.3 258.7 506.3 260.9 506.3" stroke="#FF0000" stroke-width="3.8" fill="none" stroke-linejoin="round"/>
<path d="M315.2 364.8C317.1 366.9 323.4 373.5 326.6 377.6C329.9 381.7 332.6 385.8 334.7 389.6C336.8 393.4 338.5 397.3 339.4 400.4C340.2 403.5 340.6 405.6 339.8 408.0C339.0 410.4 337.4 412.7 334.7 414.5C332.0 416.3 327.9 417.4 323.9 418.6C319.9 419.8 314.5 420.4 310.5 421.5C306.5 422.6 302.5 424.2 299.8 425.5C297.1 426.8 295.3 428.2 294.4 429.5C293.5 430.8 293.0 431.9 294.4 433.5C295.8 435.1 299.4 436.9 302.5 438.9C305.6 440.9 309.8 443.1 313.2 445.6C316.6 448.1 320.5 451.4 322.6 453.7C324.7 456.0 325.9 457.7 325.9 459.4C325.9 461.1 325.2 462.7 322.6 464.0C320.0 465.3 315.9 466.4 310.5 467.4C305.1 468.4 296.4 469.3 290.4 470.0C284.4 470.7 279.0 470.8 274.3 471.4C269.6 472.0 265.1 472.4 262.2 473.4C259.3 474.4 257.7 475.8 256.8 477.4C255.9 479.0 255.9 480.6 256.8 482.8C257.7 485.1 259.7 488.0 262.2 490.9C264.7 493.8 268.0 497.2 271.6 500.3C275.2 503.4 279.9 506.7 283.7 509.6C287.5 512.5 291.5 515.6 294.4 517.7C297.3 519.8 300.0 521.6 301.1 522.4" stroke="#FF0000" stroke-width="3.8" fill="none" stroke-linejoin="round"/>
<path d="M352 447.2L363 448.9L353.5 443.4Z" fill="#FF0000"/>
<path d="M379 432.4C385 423 392 407 398 406S409 426 415 433S428 428 440 413" stroke="#41719C" stroke-width="4.2" stroke-dasharray="4 4" fill="none"/>
<path d="M378 504C386 490 393 476.6 399 476.6S406 496 410 500S420 506 441 481.6" stroke="#FF0000" stroke-width="3.6" fill="none"/>
<text x="365" y="391.6" font-size="15.6" text-anchor="start" textLength="139.4" lengthAdjust="spacingAndGlyphs" style="font-family:'Liberation Sans',sans-serif;stroke:none">Copolymer Chains</text>
<text x="365.6" y="455.6" font-size="15.6" text-anchor="start" textLength="103" lengthAdjust="spacingAndGlyphs" style="font-family:'Liberation Sans',sans-serif;stroke:none">Starch Chains</text>
</g>
</svg></body></html>
